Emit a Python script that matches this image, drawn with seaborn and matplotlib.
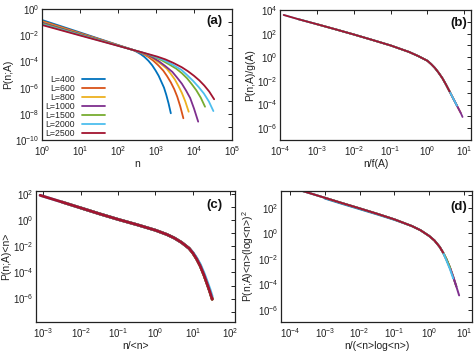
import numpy as np
import pandas as pd
import matplotlib
matplotlib.use("Agg")
import matplotlib.pyplot as plt
import seaborn as sns
from matplotlib.ticker import FixedLocator, FuncFormatter, NullLocator

# ---------------- data (log10 values) ----------------
L_values = [400, 600, 800, 1000, 1500, 2000, 2500]
colors = ["#0072BD", "#D95319", "#EDB120", "#7E2F8E", "#77AC30", "#4DBEEE", "#A2142F"]

# panel (a): P(n;A) vs n
a_head_logn = [0, 1, 2, 2.4]
a_head_logp = [
    [-0.84, -1.79, -2.75, -3.13],
    [-0.92, -1.84, -2.76, -3.13],
    [-0.98, -1.88, -2.77, -3.13],
    [-1.04, -1.91, -2.78, -3.13],
    [-1.11, -1.95, -2.79, -3.13],
    [-1.17, -1.99, -2.80, -3.13],
    [-1.22, -2.02, -2.81, -3.13],
]
a_tail_logn = [
    [2.5, 2.6, 2.7, 2.8, 2.9, 2.99, 3.07, 3.14, 3.21, 3.27, 3.33, 3.39],
    [2.53, 2.66, 2.8, 2.93, 3.06, 3.19, 3.29, 3.39, 3.48, 3.56, 3.64, 3.72],
    [2.55, 2.69, 2.84, 2.98, 3.13, 3.28, 3.39, 3.5, 3.59, 3.68, 3.77, 3.86],
    [2.57, 2.74, 2.91, 3.08, 3.25, 3.43, 3.55, 3.68, 3.79, 3.9, 4.0, 4.11],
    [2.6, 2.78, 2.97, 3.16, 3.34, 3.53, 3.68, 3.82, 3.94, 4.06, 4.18, 4.29],
    [2.61, 2.82, 3.03, 3.24, 3.45, 3.67, 3.82, 3.98, 4.12, 4.26, 4.39, 4.51],
    [2.62, 2.83, 3.04, 3.25, 3.46, 3.68, 3.84, 4.0, 4.14, 4.27, 4.4, 4.53],
]
a_tail_logp = [
    [-3.28, -3.45, -3.67, -3.95, -4.3, -4.7, -5.1, -5.55, -6.0, -6.55, -7.2, -7.96],
    [-3.27, -3.42, -3.66, -3.95, -4.3, -4.7, -5.12, -5.6, -6.12, -6.7, -7.45, -8.34],
    [-3.27, -3.42, -3.64, -3.9, -4.2, -4.55, -4.95, -5.4, -5.88, -6.4, -7.05, -7.84],
    [-3.28, -3.45, -3.7, -4.0, -4.37, -4.8, -5.22, -5.7, -6.22, -6.8, -7.6, -8.6],
    [-3.29, -3.46, -3.67, -3.93, -4.22, -4.55, -4.9, -5.3, -5.73, -6.2, -6.78, -7.46],
    [-3.3, -3.48, -3.69, -3.95, -4.27, -4.65, -5.05, -5.5, -5.95, -6.45, -7.05, -7.79],
    [-3.3, -3.47, -3.64, -3.85, -4.12, -4.45, -4.75, -5.1, -5.45, -5.84, -6.3, -6.89],
]

# panel (b): P(n;A)/g(A) vs n/f(A)
b_logx = [-3.9, -3.5, -3, -2.5, -2, -1.5, -1, -0.5, -0.25, 0, 0.1, 0.2, 0.3, 0.4, 0.5,
          0.6, 0.7, 0.8, 0.9, 0.95]
b_logy = [3.58, 3.22, 2.8, 2.37, 1.93, 1.47, 1.0, 0.45, 0.1, -0.3, -0.58, -0.9, -1.3,
          -1.75, -2.3, -2.9, -3.5, -4.1, -4.7, -5.05]
b_first = [3, 2, 2, 1, 1, 0, 0]
b_stop = [18, 19, 17, 20, 16, 18, 16]

# panel (c): P(n;A)<n> vs n/<n>
c_logx = [-3.09, -2.5, -2, -1.5, -1, -0.5, 0, 0.3, 0.5, 0.7, 0.9, 1.0, 1.1, 1.2, 1.3,
          1.4, 1.46, 1.52]
c_logy = [1.92, 1.4, 0.95, 0.5, 0.07, -0.33, -0.76, -1.08, -1.35, -1.7, -2.15, -2.5,
          -2.95, -3.5, -4.2, -5.0, -5.5, -6.05]
c_first = [2, 2, 1, 1, 1, 0, 0]
c_stop = [18, 18, 18, 18, 18, 18, 18]
c_L2000_tail_logy = [-2.45, -2.87, -3.38, -4.05, -4.82, -5.3, -5.85]   # points 11..17

# panel (d): P(n;A)<n>(log<n>)^2 vs n/(<n>log<n>)
d_logx = [-3.65, -3, -2.5, -2, -1.5, -1, -0.5, -0.25, 0, 0.15, 0.3, 0.4, 0.5, 0.6,
          0.69, 0.78, 0.86]
d_logy = [3.33, 2.79, 2.37, 1.96, 1.54, 1.1, 0.58, 0.25, -0.2, -0.55, -1.05, -1.5,
          -2.05, -2.7, -3.4, -4.15, -4.85]
d_first = [1, 1, 1, 0, 0, 0, 0]
d_stop = [16, 16, 15, 17, 14, 15, 12]
d_L400_head_logy = [2.73, 2.31, 1.9, 1.49, 1.06]      # points 1..5
d_L2000_tail_logy = [-2.15, -2.82, -3.52]             # points 12..14

labels = [f"L={v}" for v in L_values]

# ---------------- build tables ----------------
def frame_a():
    rows = []
    for i, lab in enumerate(labels):
        xs = a_head_logn + a_tail_logn[i]
        ys = a_head_logp[i] + a_tail_logp[i]
        for x, y in zip(xs, ys):
            rows.append((10.0 ** x, 10.0 ** y, lab))
    return pd.DataFrame(rows, columns=["x", "y", "L"])


def frame_collapsed(lx, ly, first, stop, overrides):
    rows = []
    for i, lab in enumerate(labels):
        ys = list(ly)
        for (li, start, vals) in overrides:
            if li == i:
                ys[start:start + len(vals)] = vals
        for k in range(first[i], stop[i]):
            rows.append((10.0 ** lx[k], 10.0 ** ys[k], lab))
    return pd.DataFrame(rows, columns=["x", "y", "L"])


df_a = frame_a()
df_b = frame_collapsed(b_logx, b_logy, b_first, b_stop, [])
df_c = frame_collapsed(c_logx, c_logy, c_first, c_stop, [(5, 11, c_L2000_tail_logy)])
df_d = frame_collapsed(d_logx, d_logy, d_first, d_stop,
                       [(0, 1, d_L400_head_logy), (5, 12, d_L2000_tail_logy)])

# ---------------- style ----------------
sns.set_theme(style="white")
plt.rcParams["font.family"] = ["Liberation Sans", "DejaVu Sans"]
plt.rcParams["mathtext.fontset"] = "custom"
plt.rcParams["mathtext.rm"] = "Liberation Sans"
plt.rcParams["mathtext.it"] = "Liberation Sans:italic"
plt.rcParams["mathtext.bf"] = "Liberation Sans:bold"

W, H = 474, 352
fig = plt.figure(figsize=(W / 100, H / 100), dpi=100)
fig.patch.set_facecolor("white")


def box(l, t, r, b):
    return [l / W, 1 - b / H, (r - l) / W, (b - t) / H]


ax_a = fig.add_axes(box(42, 9, 232, 140))
ax_b = fig.add_axes(box(280, 10, 471, 140))
ax_c = fig.add_axes(box(36, 191, 235, 322))
ax_d = fig.add_axes(box(281, 191, 472, 322))


def fmt_even(v, pos):
    e = int(round(np.log10(v)))
    return f"$10^{{{e}}}$" if e % 2 == 0 else ""


def fmt_all(v, pos):
    e = int(round(np.log10(v)))
    return f"$10^{{{e}}}$"


def style_axis(ax, xlim, ylim, xdec, ydec, xlabel, ylabel, tag, tagpos):
    ax.set_xscale("log")
    ax.set_yscale("log")
    ax.set_xlim(*xlim)
    ax.set_ylim(*ylim)
    ax.xaxis.set_major_locator(FixedLocator([10.0 ** e for e in xdec]))
    ax.yaxis.set_major_locator(FixedLocator([10.0 ** e for e in ydec]))
    ax.xaxis.set_minor_locator(NullLocator())
    ax.yaxis.set_minor_locator(NullLocator())
    ax.xaxis.set_major_formatter(FuncFormatter(fmt_all))
    ax.yaxis.set_major_formatter(FuncFormatter(fmt_even))
    ax.tick_params(axis="both", which="major", direction="in", length=3, width=0.7,
                   top=True, right=True, labelsize=7, colors="#222222")
    ax.tick_params(axis="x", pad=3)
    ax.tick_params(axis="y", pad=2)
    for s in ax.spines.values():
        s.set_color("#222222")
        s.set_linewidth(0.9)
    ax.set_xlabel(xlabel, fontsize=7.5, labelpad=0.5, color="#222222")
    ax.set_ylabel(ylabel, fontsize=7.5, labelpad=1, color="#222222")
    ax.text(tagpos[0], tagpos[1], tag, transform=ax.transAxes, ha="right", va="top",
            fontsize=9.5, fontweight="bold", color="#111111")
    ax.set_facecolor("white")


common = dict(x="x", y="y", hue="L", hue_order=labels, palette=colors,
              sort=False, estimator=None)

sns.lineplot(data=df_a, ax=ax_a, lw=1.3, legend=True, **common)
sns.lineplot(data=df_b, ax=ax_b, lw=1.3, legend=False, **common)
sns.lineplot(data=df_c, ax=ax_c, lw=2.0, legend=False, **common)
sns.lineplot(data=df_d, ax=ax_d, lw=1.4, legend=False, **common)

style_axis(ax_a, (1, 1e5), (1e-10, 1), range(0, 6), range(-10, 1),
           "n", "P(n;A)", "(a)", (0.95, 0.955))
style_axis(ax_b, (1e-4, 10 ** 1.18), (1e-7, 1e4), range(-4, 2), range(-7, 5),
           "n/f(A)", "P(n;A)/g(A)", "(b)", (0.98, 0.945))
style_axis(ax_c, (10 ** -3.2, 10 ** 2.13), (10 ** -7.8, 10 ** 2.25), range(-3, 3), range(-7, 3),
           "n/<n>", "P(n;A)<n>", "(c)", (0.935, 0.94))
style_axis(ax_d, (10 ** -4.26, 10 ** 1.23), (10 ** -6.93, 10 ** 3.32), range(-4, 2), range(-6, 4),
           "n/(<n>log<n>)", "P(n;A)<n>(log<n>)$^2$", "(d)", (0.975, 0.92))

handles, labs = ax_a.get_legend_handles_labels()
ax_a.legend(handles, labs, loc="lower left", bbox_to_anchor=(0.0, -0.01), frameon=False,
            markerfirst=False, fontsize=6.3, handlelength=2.6, labelspacing=0.0,
            handletextpad=0.8, borderpad=0.2, borderaxespad=0.2)

fig.savefig("out.png", dpi=100, facecolor="white")
